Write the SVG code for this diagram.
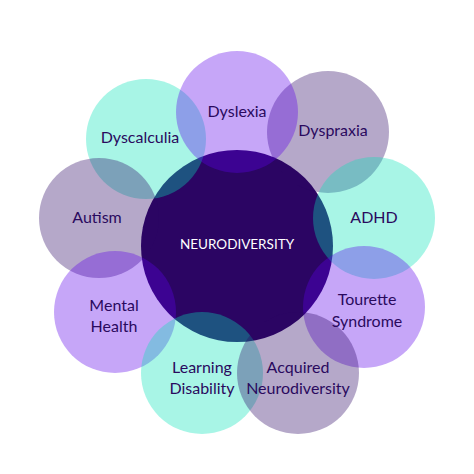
<svg xmlns="http://www.w3.org/2000/svg" width="474" height="474" viewBox="0 0 474 474">
<style>
.teal{fill:#06e2b8;fill-opacity:0.35}
.lav{fill:#5c01eb;fill-opacity:0.35}
.grey{fill:#2b0563;fill-opacity:0.35}
.core{fill:#2b0563}
text{font-family:"Lato","Open Sans",sans-serif;font-size:16px;fill:#2a0a5e;text-anchor:middle}
.ct{fill:#ffffff;font-size:13.5px}
</style>
<rect width="474" height="474" fill="#ffffff"/>
<g id="neurodiversity">
<circle class="core" cx="237" cy="246" r="96"/>
<text class="ct" x="237" y="249">NEURODIVERSITY</text>
</g>
<g id="connectors"/>
<g id="dyscalculia">
<circle class="teal" cx="146" cy="139" r="60"/>
<text x="140" y="143">Dyscalculia</text>
</g>
<g id="dyspraxia">
<circle class="grey" cx="328" cy="132" r="61"/>
<text x="333" y="136">Dyspraxia</text>
</g>
<g id="dyslexia">
<circle class="lav" cx="237" cy="112" r="61"/>
<text x="237" y="117">Dyslexia</text>
</g>
<g id="autism">
<circle class="grey" cx="99" cy="218" r="60"/>
<text x="97" y="223">Autism</text>
</g>
<g id="adhd">
<circle class="teal" cx="374" cy="218" r="61"/>
<text x="374" y="223">ADHD</text>
</g>
<g id="mental-health">
<circle class="lav" cx="115" cy="312" r="61"/>
<text x="114" y="311">Mental</text>
<text x="114" y="332">Health</text>
</g>
<g id="tourette">
<circle class="lav" cx="364" cy="307" r="61"/>
<text x="367" y="305">Tourette</text>
<text x="367" y="327">Syndrome</text>
</g>
<g id="learning-disability">
<circle class="teal" cx="202" cy="373" r="61"/>
<text x="202" y="373">Learning</text>
<text x="202" y="394">Disability</text>
</g>
<g id="acquired-neurodiversity">
<circle class="grey" cx="298" cy="373" r="61"/>
<text x="298" y="373">Acquired</text>
<text x="298" y="394">Neurodiversity</text>
</g>
</svg>
